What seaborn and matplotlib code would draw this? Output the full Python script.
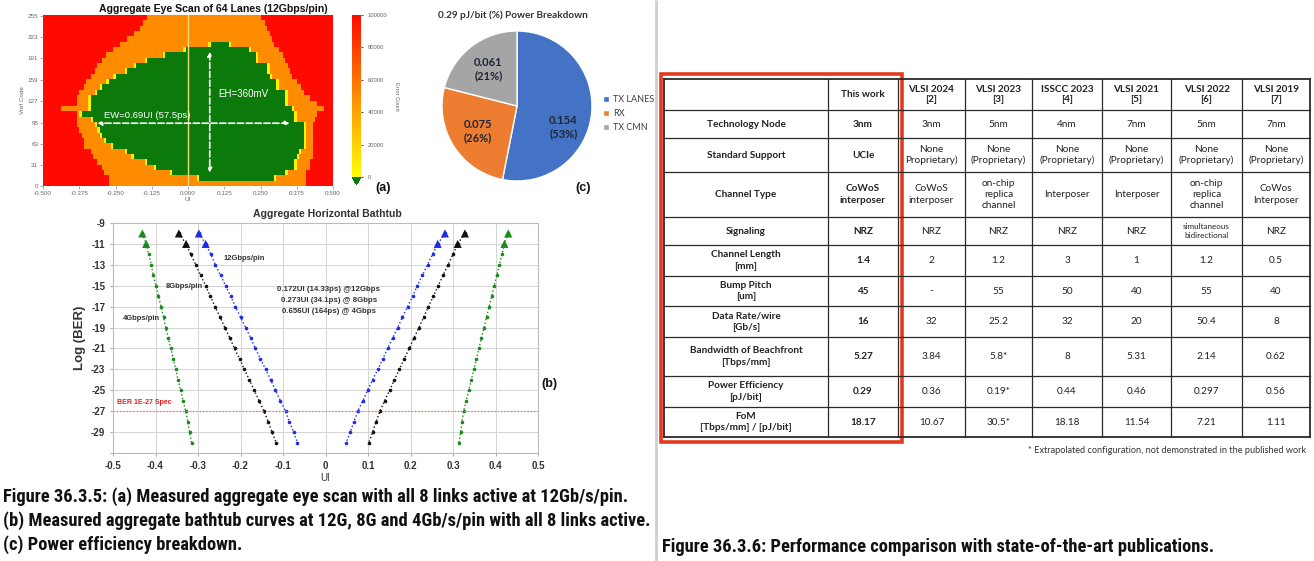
import numpy as np
import pandas as pd
import matplotlib
matplotlib.use('Agg')
import matplotlib.pyplot as plt
import seaborn as sns
from matplotlib.colors import LinearSegmentedColormap
from matplotlib import font_manager
from matplotlib.patches import Rectangle

W, H = 1314, 561
nan = np.nan

# ---------------- (a) eye scan: per Vref row (8 codes), edges (UI) of the
# error-free region (green) and of the low-error band (orange)
vref_rows = [0, 8, 16, 24, 32, 40, 48, 56, 64, 72, 80, 88, 96, 104, 112, 120,
             128, 136, 144, 152, 160, 168, 176, 184, 192, 200, 208, 216, 224, 232, 240, 248]
green_left = [nan, 0.04, -0.052, -0.109, -0.144, -0.19, -0.213, -0.259, -0.282, -0.293, -0.305, -0.316,
              -0.328, -0.368, -0.339, -0.339, -0.333, -0.31, -0.293, -0.27, -0.247, -0.213, -0.178, -0.138,
              -0.075, -0.006, 0.075, nan, nan, nan, nan, nan]
green_right = [nan, 0.30, 0.339, 0.368, 0.368, 0.374, 0.385, 0.397, 0.397, 0.402, 0.402, 0.402,
               0.368, 0.368, 0.362, 0.339, 0.339, 0.333, 0.305, 0.305, 0.282, 0.276, 0.276, 0.236,
               0.236, 0.213, 0.144, nan, nan, nan, nan, nan]
orange_left = [-0.27, -0.275, -0.287, -0.293, -0.316, -0.328, -0.339, -0.356, -0.362, -0.368, -0.374, -0.379,
               -0.382, -0.385, -0.437, -0.385, -0.379, -0.374, -0.362, -0.351, -0.339, -0.322, -0.316, -0.299,
               -0.282, -0.259, -0.236, -0.213, -0.19, -0.167, -0.155, -0.144]
orange_right = [0.405, 0.406, 0.41, 0.425, 0.425, 0.431, 0.431, 0.431, 0.431, 0.431, 0.431, 0.431,
                0.437, 0.443, 0.471, 0.443, 0.42, 0.402, 0.39, 0.374, 0.362, 0.351, 0.345, 0.339,
                0.328, 0.316, 0.30, 0.29, 0.285, 0.27, 0.262, 0.253]
ui_ticks = [-0.5, -0.375, -0.25, -0.125, 0.0, 0.125, 0.25, 0.375, 0.5]
vref_ticks = [0, 31, 63, 95, 127, 159, 191, 223, 255]
cbar_ticks = [0, 20000, 40000, 60000, 80000, 100000]

# ---------------- (b) bathtub curves
log_ber = [-10, -11, -12, -13, -14, -15, -16, -17, -18, -19, -20,
           -21, -22, -23, -24, -25, -26, -27, -28, -29, -30]
ui_12g_left = [-0.298, -0.282, -0.270, -0.259, -0.247, -0.235, -0.223, -0.212, -0.200, -0.188, -0.176,
               -0.165, -0.153, -0.141, -0.129, -0.118, -0.106, -0.094, -0.085, -0.075, -0.066]
ui_12g_right = [0.281, 0.264, 0.252, 0.240, 0.228, 0.216, 0.205, 0.193, 0.181, 0.170, 0.158,
                0.146, 0.135, 0.123, 0.111, 0.099, 0.088, 0.076, 0.067, 0.058, 0.049]
ui_8g_left = [-0.345, -0.328, -0.317, -0.305, -0.294, -0.282, -0.271, -0.260, -0.248, -0.237, -0.225,
              -0.214, -0.202, -0.191, -0.179, -0.168, -0.156, -0.145, -0.135, -0.126, -0.116]
ui_8g_right = [0.328, 0.311, 0.300, 0.288, 0.277, 0.265, 0.254, 0.242, 0.231, 0.220, 0.208,
               0.197, 0.185, 0.174, 0.162, 0.151, 0.139, 0.128, 0.119, 0.111, 0.102]
ui_4g_left = [-0.431, -0.422, -0.416, -0.410, -0.405, -0.399, -0.393, -0.387, -0.381, -0.376, -0.370,
              -0.364, -0.358, -0.352, -0.347, -0.341, -0.335, -0.329, -0.324, -0.320, -0.315]
ui_4g_right = [0.430, 0.421, 0.415, 0.409, 0.403, 0.397, 0.391, 0.385, 0.379, 0.373, 0.367,
               0.361, 0.355, 0.349, 0.343, 0.337, 0.331, 0.325, 0.321, 0.318, 0.314]
ber_spec = -27
bathtub_notes = ['0.172UI (14.33ps) @12Gbps', '0.273UI (34.1ps) @ 8Gbps', '0.656UI (164ps) @ 4Gbps']

# ---------------- (c) power breakdown
power_parts = ['TX LANES', 'RX', 'TX CMN']
power_values = [0.154, 0.075, 0.061]

# ---------------- comparison table
table_header = ['', 'This work', 'VLSI 2024\n[2]', 'VLSI 2023\n[3]', 'ISSCC 2023\n[4]',
                'VLSI 2021\n[5]', 'VLSI 2022\n[6]', 'VLSI 2019\n[7]']
row_labels = ['Technology Node', 'Standard Support', 'Channel Type', 'Signaling',
              'Channel Length\n[mm]', 'Bump Pitch\n[um]', 'Data Rate/wire\n[Gb/s]',
              'Bandwidth of Beachfront\n[Tbps/mm]', 'Power Efficiency\n[pJ/bit]',
              'FoM\n[Tbps/mm] / [pJ/bit]']
this_work = ['3nm', 'UCIe', 'CoWoS\ninterposer', 'NRZ', '1.4', '45', '16', '5.27', '0.29', '18.17']
vlsi_2024 = ['3nm', 'None\nProprietary)', 'CoWoS\ninterposer', 'NRZ', '2', '-', '32', '3.84', '0.36', '10.67']
vlsi_2023 = ['5nm', 'None\n(Proprietary)', 'on-chip\nreplica\nchannel', 'NRZ', '1.2', '55', '25.2', '5.8*', '0.19*', '30.5*']
isscc_2023 = ['4nm', 'None\n(Proprietary)', 'Interposer', 'NRZ', '3', '50', '32', '8', '0.44', '18.18']
vlsi_2021 = ['7nm', 'None\n(Proprietary)', 'Interposer', 'NRZ', '1', '40', '20', '5.31', '0.46', '11.54']
vlsi_2022 = ['5nm', 'None\n(Proprietary)', 'on-chip\nreplica\nchannel', 'simultaneous\nbidirectional',
             '1.2', '55', '50.4', '2.14', '0.297', '7.21']
vlsi_2019 = ['7nm', 'None\n(Proprietary)', 'CoWos\nInterposer', 'NRZ', '0.5', '40', '8', '0.62', '0.56', '1.11']
footnote = '* Extrapolated configuration, not demonstrated in the published work'

captions_left = ['Figure 36.3.5: (a) Measured aggregate eye scan with all 8 links active at 12Gb/s/pin.',
                 '(b) Measured aggregate bathtub curves at 12G, 8G and 4Gb/s/pin with all 8 links active.',
                 '(c) Power efficiency breakdown.']
caption_right = 'Figure 36.3.6: Performance comparison with state-of-the-art publications.'

# ---------------- fonts
fonts = font_manager.fontManager.ttflist
names = {f.name for f in fonts}
arial = 'Liberation Sans' if 'Liberation Sans' in names else 'DejaVu Sans'
calibri = 'Lato' if 'Lato' in names else 'DejaVu Sans'
narrow, narrow_stretch = 'DejaVu Sans', 'normal'
for cand in ['Liberation Sans Narrow', 'Roboto Condensed', 'Open Sans Condensed', 'DejaVu Sans Condensed']:
    if cand in names:
        narrow = cand
        break
else:
    for f in fonts:
        if f.stretch in ('condensed', 'semi-condensed', 'extra-condensed', 'ultra-condensed') \
                and f.name in ('DejaVu Sans', 'Roboto', 'Open Sans', 'Noto Sans', 'Liberation Sans'):
            narrow, narrow_stretch = f.name, f.stretch
            break
plt.rcParams['font.family'] = [arial, 'DejaVu Sans']


def px(x0, y0, x1, y1):
    return [x0 / W, 1 - y1 / H, (x1 - x0) / W, (y1 - y0) / H]


fig = plt.figure(figsize=(W / 100, H / 100), dpi=100)

# ======== (a) eye scan heatmap
ncol = 128
centers = -0.5 + (np.arange(ncol) + 0.5) / ncol
grid = np.full((len(vref_rows), ncol), 100000.0)
for i in range(len(vref_rows)):
    grid[i, (centers >= orange_left[i]) & (centers <= orange_right[i])] = 50000
    if not np.isnan(green_left[i]):
        g = (centers >= green_left[i]) & (centers <= green_right[i])
        rim = np.convolve(g.astype(int), [1, 1, 1], mode='same') > 0
        grid[i, rim & ~g] = 6000
        grid[i, g] = np.nan
eye = pd.DataFrame(grid[::-1], index=vref_rows[::-1], columns=np.round(centers, 4))

eye_cmap = LinearSegmentedColormap.from_list('eye', ['#FFFF00', '#FF8C00', '#FF0A00'])
eye_cmap.set_under('#0B7A0B')
eye_cmap.set_bad('#0B7A0B')

axa = fig.add_axes(px(43, 15, 333, 186))
cax = fig.add_axes(px(352, 15, 361, 185))
sns.heatmap(eye, ax=axa, cbar_ax=cax, cmap=eye_cmap, vmin=0, vmax=100000,
            xticklabels=False, yticklabels=False,
            cbar_kws={'extend': 'min', 'ticks': cbar_ticks})
axa.set_facecolor('#0B7A0B')
axa.set_xticks([(u + 0.5) * ncol for u in ui_ticks])
axa.set_xticklabels([f'{u:.3f}' for u in ui_ticks], rotation=0)
axa.set_yticks([(256 - v) / 8 for v in vref_ticks])
axa.set_yticklabels([str(v) for v in vref_ticks], rotation=0)
axa.tick_params(labelsize=4.5, labelcolor='#666666', length=2, width=0.5, color='#888888', pad=1.5)
axa.set_xlabel('UI', fontsize=4.5, color='#666666', labelpad=1)
axa.set_ylabel('Vref Code', fontsize=4.5, color='#666666', labelpad=2)
axa.axvline(0.5 * ncol, color='#E6E07A', lw=1)


def eye_xy(u, v):
    return ((u + 0.5) * ncol, (256 - v) / 8)


axa.annotate('', xy=eye_xy(-0.322, 94), xytext=eye_xy(0.36, 94),
             arrowprops=dict(arrowstyle='<|-|>', ls='--', color='white', lw=1.2, mutation_scale=6))
axa.annotate('', xy=eye_xy(0.075, 16), xytext=eye_xy(0.075, 205),
             arrowprops=dict(arrowstyle='<|-|>', ls='--', color='white', lw=1.2, mutation_scale=6))
axa.text(*eye_xy(0.103, 137), 'EH=360mV', color='white', fontsize=7, va='center', ha='left')
axa.text(*eye_xy(-0.29, 105), 'EW=0.69UI (57.5ps)', color='white', fontsize=6.8, va='center', ha='left')

cax.tick_params(labelsize=4.2, labelcolor='#666666', length=1.5, width=0.5)
cax.set_ylabel('Error Count', fontsize=4, color='#666666', rotation=270, labelpad=8)

# ======== (b) bathtub
curves = [('12G', 'L', ui_12g_left), ('12G', 'R', ui_12g_right),
          ('8G', 'L', ui_8g_left), ('8G', 'R', ui_8g_right),
          ('4G', 'L', ui_4g_left), ('4G', 'R', ui_4g_right)]
bt = pd.DataFrame([(rate, side, u, b) for rate, side, xs in curves for u, b in zip(xs, log_ber)],
                  columns=['rate', 'side', 'UI', 'logBER'])
rate_colors = {'12G': '#1C2BE6', '8G': '#111111', '4G': '#1B8A1B'}

axb = fig.add_axes(px(113, 223, 538, 453))
sns.lineplot(data=bt, x='UI', y='logBER', hue='rate', units='side', estimator=None, sort=False,
             palette=rate_colors, ax=axb, legend=False, linestyle=':', lw=1,
             marker='o', markersize=2.6, markeredgewidth=0)
sns.scatterplot(data=bt[bt['logBER'] >= -11], x='UI', y='logBER', hue='rate', palette=rate_colors,
                marker='^', s=34, linewidth=0, ax=axb, legend=False, zorder=4)
axb.axhline(ber_spec, color='#FF6666', lw=0.9, ls=':')
axb.set_xlim(-0.5, 0.5)
axb.set_ylim(-31, -9)
xt = [-0.5, -0.4, -0.3, -0.2, -0.1, 0, 0.1, 0.2, 0.3, 0.4, 0.5]
axb.set_xticks(xt)
axb.set_xticklabels([f'{v:g}' for v in xt])
axb.set_yticks([-9, -11, -13, -15, -17, -19, -21, -23, -25, -27, -29, -31])
axb.set_yticklabels(['-9', '-11', '-13', '-15', '-17', '-19', '-21', '-23', '-25', '-27', '-29', ''])
axb.grid(True, color='#D4D4D4', lw=0.7)
axb.set_axisbelow(True)
for s in axb.spines.values():
    s.set_color('#BBBBBB')
    s.set_linewidth(0.8)
axb.tick_params(labelsize=7, length=2.5, width=0.6, color='#999999', pad=3)
for t in axb.get_xticklabels() + axb.get_yticklabels():
    t.set_fontweight('bold')
    t.set_color('#333333')
axb.set_xlabel('UI', fontsize=7, color='#333333', labelpad=2)
axb.set_ylabel('Log (BER)', fontsize=9.5, fontweight='bold', color='#333333', labelpad=4)
axb.text(-0.49, ber_spec + 0.45, 'BER 1E-27 Spec', color='#E62020', fontsize=5, fontweight='bold',
         ha='left', va='bottom')
axb.text(-0.192, -12.35, '12Gbps/pin', fontsize=5.5, fontweight='bold', color='#333333', ha='center', va='center')
axb.text(-0.332, -15.06, '8Gbps/pin', fontsize=5.5, fontweight='bold', color='#333333', ha='center', va='center')
axb.text(-0.434, -18.1, '4Gbps/pin', fontsize=5.5, fontweight='bold', color='#333333', ha='center', va='center')
for k, note in enumerate(bathtub_notes):
    axb.text(0.008, -15.4 - 1.05 * k, note, fontsize=5.7, fontweight='bold', color='#333333',
             ha='center', va='center')

# ======== (c) pie
total = sum(power_values)
axc = fig.add_axes(px(442, 31, 592, 181))
wedges, _, autotexts = axc.pie(power_values, colors=['#4472C4', '#ED7D31', '#A5A5A5'], startangle=90,
                               counterclock=False, pctdistance=0.62,
                               autopct=lambda p: f'{p * total / 100:.3f}\n({p:.0f}%)',
                               wedgeprops=dict(edgecolor='white', linewidth=1),
                               textprops=dict(fontsize=8, fontweight='bold', color='#1E2533',
                                              family=[calibri, 'DejaVu Sans']))
x0, y0 = autotexts[0].get_position()
autotexts[0].set_position((x0, y0 - 0.22))
axc.set_xlim(-1, 1)
axc.set_ylim(-1, 1)
axc.legend(wedges, power_parts, loc='center left', bbox_to_anchor=(1.02, 0.45), frameon=False,
           handlelength=0.6, handleheight=0.6, handletextpad=0.5, labelspacing=0.55,
           prop={'family': calibri, 'size': 6.5}, labelcolor='#404040')

# ======== overlay: titles, table, captions
ov = fig.add_axes([0, 0, 1, 1], zorder=10)
ov.set_xlim(0, W)
ov.set_ylim(H, 0)
ov.axis('off')
ov.patch.set_visible(False)

ov.text(213, 9, 'Aggregate Eye Scan of 64 Lanes (12Gbps/pin)', fontsize=7.6, fontweight='bold',
        ha='center', va='center', color='#111111')
ov.text(327, 214, 'Aggregate Horizontal Bathtub', fontsize=7.6, fontweight='bold',
        ha='center', va='center', color='#333333')
ov.text(513, 15, '0.29 pJ/bit (%) Power Breakdown', fontsize=7.2, fontweight='bold',
        ha='center', va='center', color='#333333', family=[calibri, 'DejaVu Sans'])
for lab, (x, y) in zip(['(a)', '(b)', '(c)'], [(383, 188), (549, 384), (583, 188)]):
    ov.text(x, y, lab, fontsize=9, fontweight='bold', ha='center', va='center', color='#111111')

ov.plot([656, 656], [0, H], color='#CFCFCF', lw=2, solid_capstyle='butt')

col_edges = [664, 828, 898, 965, 1032, 1102, 1171, 1242, 1310]
row_edges = [79, 110, 138, 172, 217, 245, 276, 306, 337, 376, 407, 437]
for x in col_edges:
    lw = 1.3 if x in (col_edges[0], col_edges[-1]) else 0.9
    ov.plot([x, x], [row_edges[0], row_edges[-1]], color='#2A2A2A', lw=lw)
for y in row_edges:
    lw = 1.3 if y in (row_edges[0], row_edges[-1]) else 0.9
    ov.plot([col_edges[0], col_edges[-1]], [y, y], color='#2A2A2A', lw=lw)

columns = [row_labels, this_work, vlsi_2024, vlsi_2023, isscc_2023, vlsi_2021, vlsi_2022, vlsi_2019]
for c, head in enumerate(table_header):
    xc = (col_edges[c] + col_edges[c + 1]) / 2
    ov.text(xc, (row_edges[0] + row_edges[1]) / 2, head, fontsize=7.2, fontweight='bold', ha='center',
            va='center', color='#222222', family=[calibri, 'DejaVu Sans'], linespacing=1.25)
    for r, cell in enumerate(columns[c]):
        yc = (row_edges[r + 1] + row_edges[r + 2]) / 2
        bold = c <= 1
        fs = 5.8 if cell.startswith('simultaneous') else 7.2
        ov.text(xc, yc, cell, fontsize=fs, fontweight='bold' if bold else 'normal', ha='center',
                va='center', color='#222222', family=[calibri, 'DejaVu Sans'], linespacing=1.3)

ov.add_patch(Rectangle((661, 74), 241, 368, fill=False, edgecolor='#E5391F', lw=2.6))
ov.text(1306, 450, footnote, fontsize=6.6, ha='right', va='center', color='#333333',
        family=[calibri, 'DejaVu Sans'])

# captions: bold condensed, sized so the longest line spans the left panel as in the original
cap_kw = dict(fontweight='bold', ha='left', va='center', family=[narrow, 'DejaVu Sans'],
              fontstretch=narrow_stretch, color='#111111')
renderer = fig.canvas.get_renderer()
probe = ov.text(3, 521, captions_left[1], fontsize=12, **cap_kw)
cap_size = 12 * 651 / probe.get_window_extent(renderer).width
probe.remove()
for k, line in enumerate(captions_left):
    ov.text(3, 497 + 24 * k, line, fontsize=cap_size, **cap_kw)
ov.text(662, 547, caption_right, fontsize=cap_size, **cap_kw)

fig.savefig('out.png', dpi=100)
